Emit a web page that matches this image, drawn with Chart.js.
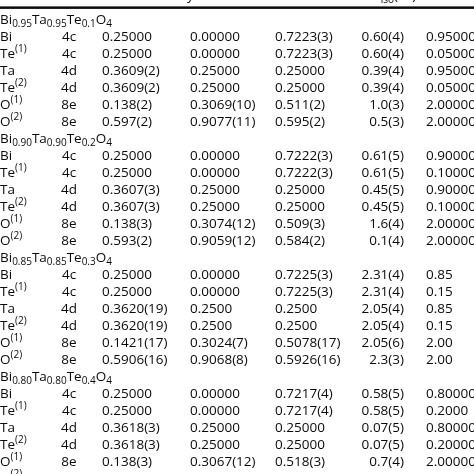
<!DOCTYPE html>
<html><head><meta charset="utf-8">
<script src="https://cdn.jsdelivr.net/npm/chart.js@4"></script>
<style>html,body{margin:0;padding:0;background:#fff}#c{display:block}</style>
</head><body>
<div style="width:474px;height:474px"><canvas id="c"></canvas></div>
<script>
// compositions (title segments: [text, isSub])
const titles = [
  [["Bi",0],["0.95",1],["Ta",0],["0.95",1],["Te",0],["0.1",1],["O",0],["4",1]],
  [["Bi",0],["0.90",1],["Ta",0],["0.90",1],["Te",0],["0.2",1],["O",0],["4",1]],
  [["Bi",0],["0.85",1],["Ta",0],["0.85",1],["Te",0],["0.3",1],["O",0],["4",1]],
  [["Bi",0],["0.80",1],["Ta",0],["0.80",1],["Te",0],["0.4",1],["O",0],["4",1]]
];
const atoms = [["Bi",""],["Te","(1)"],["Ta",""],["Te","(2)"],["O","(1)"],["O","(2)"]];
const sites = ["4c","4c","4d","4d","8e","8e"];
const xVals = [
  ["0.25000","0.25000","0.3609(2)","0.3609(2)","0.138(2)","0.597(2)"],
  ["0.25000","0.25000","0.3607(3)","0.3607(3)","0.138(3)","0.593(2)"],
  ["0.25000","0.25000","0.3620(19)","0.3620(19)","0.1421(17)","0.5906(16)"],
  ["0.25000","0.25000","0.3618(3)","0.3618(3)","0.138(3)","0.592(3)"]
];
const yVals = [
  ["0.00000","0.00000","0.25000","0.25000","0.3069(10)","0.9077(11)"],
  ["0.00000","0.00000","0.25000","0.25000","0.3074(12)","0.9059(12)"],
  ["0.00000","0.00000","0.2500","0.2500","0.3024(7)","0.9068(8)"],
  ["0.00000","0.00000","0.25000","0.25000","0.3067(12)","0.9110(12)"]
];
const zVals = [
  ["0.7223(3)","0.7223(3)","0.25000","0.25000","0.511(2)","0.595(2)"],
  ["0.7222(3)","0.7222(3)","0.25000","0.25000","0.509(3)","0.584(2)"],
  ["0.7225(3)","0.7225(3)","0.2500","0.2500","0.5078(17)","0.5926(16)"],
  ["0.7217(4)","0.7217(4)","0.25000","0.25000","0.518(3)","0.590(3)"]
];
const bVals = [
  ["0.60(4)","0.60(4)","0.39(4)","0.39(4)","1.0(3)","0.5(3)"],
  ["0.61(5)","0.61(5)","0.45(5)","0.45(5)","1.6(4)","0.1(4)"],
  ["2.31(4)","2.31(4)","2.05(4)","2.05(4)","2.05(6)","2.3(3)"],
  ["0.58(5)","0.58(5)","0.07(5)","0.07(5)","0.7(4)","0.7(4)"]
];
const occVals = [
  ["0.95000","0.05000","0.95000","0.05000","2.00000","2.00000"],
  ["0.90000","0.10000","0.90000","0.10000","2.00000","2.00000"],
  ["0.85","0.15","0.85","0.15","2.00","2.00"],
  ["0.80000","0.2000","0.80000","0.20000","2.00000","2.00000"]
];

const FONT = "13.5px 'Open Sans'";
const SMALL = "10px 'Open Sans'";
const COLOR = "#0a0a0a";

function rich(ctx, x, y, segs) {
  segs.forEach(([t, mode]) => {
    ctx.font = mode ? SMALL : FONT;
    const dy = mode === 1 ? 4 : mode === 2 ? -5 : 0;
    ctx.fillText(t, x, y + dy);
    x += ctx.measureText(t).width;
  });
}

const tablePlugin = {
  id: "table",
  afterDraw(chart) {
    const ctx = chart.ctx, xs = chart.scales.x, ys = chart.scales.y;
    ctx.save();
    ctx.fillStyle = COLOR;
    ctx.textBaseline = "middle";
    // header rule
    ctx.fillRect(0, ys.getPixelForValue(-0.8), 474, 2.5);
    ctx.font = FONT;
    ctx.textAlign = "left";
    ctx.fillText("y", xs.getPixelForValue(187), ys.getPixelForValue(-1.4));
    rich(ctx, xs.getPixelForValue(372), ys.getPixelForValue(-1.4), [["B",0],["iso",1],["(Å",0],["2",2],[")",0]]);
    titles.forEach((title, g) => {
      const base = g * 7;
      ctx.textAlign = "left";
      rich(ctx, 0, ys.getPixelForValue(base), title);
      for (let r = 0; r < 6; r++) {
        const py = ys.getPixelForValue(base + r + 1);
        ctx.textAlign = "left";
        rich(ctx, 0, py, [[atoms[r][0], 0], [atoms[r][1], 2]]);
        ctx.font = FONT;
        ctx.textAlign = "center";
        ctx.fillText(sites[r], xs.getPixelForValue(69), py);
        ctx.textAlign = "left";
        ctx.fillText(xVals[g][r], xs.getPixelForValue(102), py);
        ctx.fillText(yVals[g][r], xs.getPixelForValue(190), py);
        ctx.fillText(zVals[g][r], xs.getPixelForValue(275), py);
        ctx.textAlign = "right";
        ctx.fillText(bVals[g][r], xs.getPixelForValue(404), py);
        ctx.textAlign = "left";
        ctx.fillText(occVals[g][r], xs.getPixelForValue(426), py);
      }
    });
    ctx.restore();
  }
};

new Chart(document.getElementById("c"), {
  type: "scatter",
  data: { datasets: [{ data: [], pointRadius: 0 }] },
  options: {
    responsive: true,
    maintainAspectRatio: false,
    animation: false,
    layout: { padding: 0 },
    plugins: { legend: { display: false }, tooltip: { enabled: false } },
    scales: {
      x: { type: "linear", min: 0, max: 474, display: false },
      y: { type: "linear", min: -20 / 17, max: 454 / 17, reverse: true, display: false }
    }
  },
  plugins: [tablePlugin]
});
</script>
</body></html>
